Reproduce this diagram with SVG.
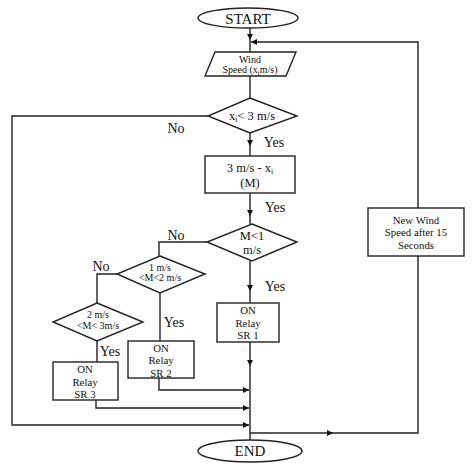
<svg xmlns="http://www.w3.org/2000/svg" width="474" height="474" viewBox="0 0 474 474" font-family="'Liberation Serif', 'Times New Roman', serif">
<defs>
<marker id="ar" viewBox="0 0 10 10" refX="10" refY="5" markerWidth="7" markerHeight="6" markerUnits="userSpaceOnUse" orient="auto"><path d="M0,0 L10,5 L0,10 z" fill="#111"/></marker>
<style>
.s{fill:#fff;stroke:#222;stroke-width:1.4}
.c{fill:none;stroke:#222;stroke-width:1.4}
text{font-family:'Liberation Serif','Times New Roman',serif;fill:#111;text-anchor:middle}
.t{font-size:12.5px}
.r{font-size:10.8px}
.d{font-size:10px}
.l{font-size:14px}
</style>
</defs>
<rect width="474" height="474" fill="#fff"/>
<g id="connectors">
<path class="c" d="M250,28 V40" marker-end="url(#ar)"/>
<path class="c" d="M250,40 V52"/>
<path class="c" d="M418,208 V42 H251" marker-end="url(#ar)"/>
<path class="c" d="M250,76 V98"/>
<path class="c" d="M208,116 H12 V425 H249" marker-end="url(#ar)"/>
<path class="c" d="M250,133 V146" marker-end="url(#ar)"/>
<path class="c" d="M250,146 V156"/>
<path class="c" d="M250,193 V216" marker-end="url(#ar)"/>
<path class="c" d="M250,216 V224"/>
<path class="c" d="M207,242 H159 V256"/>
<path class="c" d="M117,274 H97 V303"/>
<path class="c" d="M160,293 V341"/>
<path class="c" d="M97,341 V362"/>
<path class="c" d="M159,378 V390 H249" marker-end="url(#ar)"/>
<path class="c" d="M96,400 V408 H249" marker-end="url(#ar)"/>
<path class="c" d="M250,261 V291" marker-end="url(#ar)"/>
<path class="c" d="M250,291 V303"/>
<path class="c" d="M250,342 V366" marker-end="url(#ar)"/>
<path class="c" d="M250,366 V440"/>
<path class="c" d="M250,433 H333" marker-end="url(#ar)"/>
<path class="c" d="M333,433 H418 V256"/>
</g>
<g id="start">
<ellipse class="s" cx="248" cy="18" rx="50" ry="10"/>
<text x="248" y="23.5" style="font-size:15px">START</text>
</g>
<g id="input">
<polygon class="s" points="215,52 296,52 286,76 205,76"/>
<text class="d" x="250" y="63">Wind</text>
<text class="d" x="250" y="73">Speed (x<tspan font-size="7" dy="2">i</tspan><tspan dy="-2">m/s)</tspan></text>
</g>
<g id="d1">
<polygon class="s" points="250,98 297,116 250,133 208,116"/>
<text class="t" x="252" y="120">x<tspan font-size="8" dy="2">i</tspan><tspan dy="-2">&lt; 3 m/s</tspan></text>
<text class="l" x="176" y="133">No</text>
<text class="l" x="274" y="147">Yes</text>
</g>
<g id="calc">
<rect class="s" x="205" y="156" width="90" height="37"/>
<text class="t" x="250" y="172">3 m/s - x<tspan font-size="8" dy="2">i</tspan></text>
<text class="t" x="250" y="187">(M)</text>
<text class="l" x="275" y="212">Yes</text>
</g>
<g id="d2">
<polygon class="s" points="252,224 297,242 252,261 207,242"/>
<text class="t" x="252" y="240">M&lt;1</text>
<text class="t" x="252" y="254">m/s</text>
<text class="l" x="176" y="240">No</text>
<text class="l" x="275" y="291">Yes</text>
</g>
<g id="d3">
<polygon class="s" points="160,256 205,274 160,293 117,274"/>
<text class="d" x="160" y="271">1 m/s</text>
<text class="d" x="160" y="281">&lt;M&lt;2 m/s</text>
<text class="l" x="101" y="271">No</text>
<text class="l" x="174" y="327">Yes</text>
</g>
<g id="d4">
<polygon class="s" points="97,303 143,322 97,341 53,322"/>
<text class="d" x="98" y="318">2 m/s</text>
<text class="d" x="98" y="329">&lt;M&lt; 3m/s</text>
<text class="l" x="110" y="356">Yes</text>
</g>
<g id="sr1">
<rect class="s" x="217" y="303" width="62" height="39"/>
<text class="r" x="248" y="314">ON</text>
<text class="r" x="248" y="326.5">Relay</text>
<text class="r" x="248" y="339">SR 1</text>
</g>
<g id="sr2">
<rect class="s" x="128" y="341" width="66" height="37"/>
<text class="r" x="161" y="351.5">ON</text>
<text class="r" x="161" y="364">Relay</text>
<text class="r" x="161" y="376.5">SR 2</text>
</g>
<g id="sr3">
<rect class="s" x="53" y="362" width="65" height="38"/>
<text class="r" x="85" y="373">ON</text>
<text class="r" x="85" y="385.5">Relay</text>
<text class="r" x="85" y="398">SR 3</text>
</g>
<g id="newwind">
<rect class="s" x="368" y="208" width="96" height="48"/>
<text class="r" x="416" y="223.5">New Wind</text>
<text class="r" x="416" y="236">Speed after 15</text>
<text class="r" x="416" y="248.5">Seconds</text>
</g>
<g id="end">
<ellipse class="s" cx="250" cy="451" rx="52" ry="11"/>
<text x="250" y="456" style="font-size:15px">END</text>
</g>
</svg>
